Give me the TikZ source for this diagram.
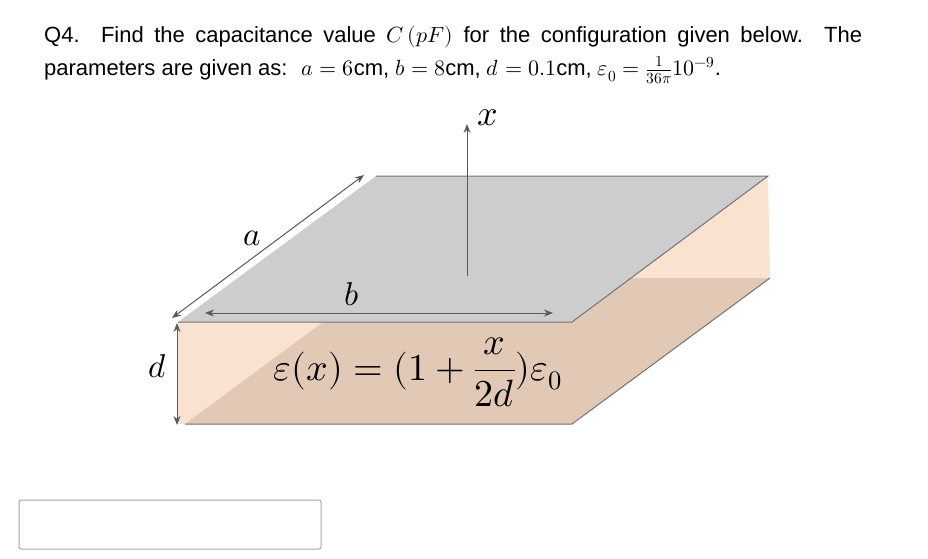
\documentclass[tikz,border=0pt]{standalone}
\usepackage{fontspec}
\usepackage{unicode-math}
\setmainfont{Liberation Sans}
\setmathfont{Latin Modern Math}
\usetikzlibrary{arrows.meta}
\begin{document}
\begin{tikzpicture}[x=1pt,y=-1pt,
  dim/.style={draw=black!65,line width=1pt,{Stealth[length=9pt,width=7pt]}-{Stealth[length=9pt,width=7pt]}},
  edge/.style={draw=black!55,line width=1pt},
  lbl/.style={inner sep=0pt}]
\useasboundingbox (0,0) rectangle (928,558);
\definecolor{peach}{RGB}{249,226,208}
\definecolor{darkpeach}{RGB}{226,201,182}
\definecolor{plate}{RGB}{205,205,208}
\node[anchor=north west,text width=818pt,align=justify,inner sep=0pt,font=\fontsize{22}{33}\selectfont] (q) at (44,26)
 {Q4. Find the capacitance value $C\,(pF)$ for the configuration given below. The\linebreak parameters are given as: \ $a=6$cm, $b=8$cm, $d=0.1$cm, $\varepsilon_0=\frac{1}{36\pi}10^{-9}$.};
% faces
\fill[peach] (178,322) rectangle (572,424);
\fill[peach] (572,322) -- (768,176) -- (770,278) -- (572,424) -- cycle;
\path[fill=darkpeach] (185,424) -- (572,424) -- (770,278) -- (383,278) -- cycle;
\draw[edge] (185,424) -- (572,424) -- (770,278);
\fill[plate] (178,322) -- (572,322) -- (768,176) -- (376,176) -- cycle;
\draw[edge] (178,322) -- (572,322) -- (768,176) -- (376,176);
% dimensions
\coordinate (a1) at (172,318); \coordinate (a2) at (364,175);
\draw[dim] (a1) -- (a2);
\coordinate (b1) at (205,313); \coordinate (b2) at (553,313);
\draw[dim] (b1) -- (b2);
\coordinate (d1) at (177,323); \coordinate (d2) at (177,425);
\draw[dim] (d1) -- (d2);
\coordinate (x1) at (467,276); \coordinate (x2) at (467,124);
\draw[draw=black!65,line width=1pt,-{Stealth[length=9pt,width=7pt]}] (x1) -- (x2);
\node[lbl,font=\fontsize{36}{36}\selectfont] (xl) at (488,118) {$x$};
\node[lbl,font=\fontsize{33}{33}\selectfont] (al) at (252,238) {$a$};
\node[lbl,font=\fontsize{33}{33}\selectfont] (bl) at (352,294) {$b$};
\node[lbl,font=\fontsize{33}{33}\selectfont] (dl) at (157,366) {$d$};
\node[lbl,font=\fontsize{38}{38}\selectfont] (eq) at (418,372) {$\displaystyle\varepsilon(x)=(1+\frac{x}{2d})\varepsilon_0$};
% answer box
\draw[black!35,line width=1pt,rounded corners=2pt] (19,500) rectangle (321,549);
\end{tikzpicture}
\end{document}
